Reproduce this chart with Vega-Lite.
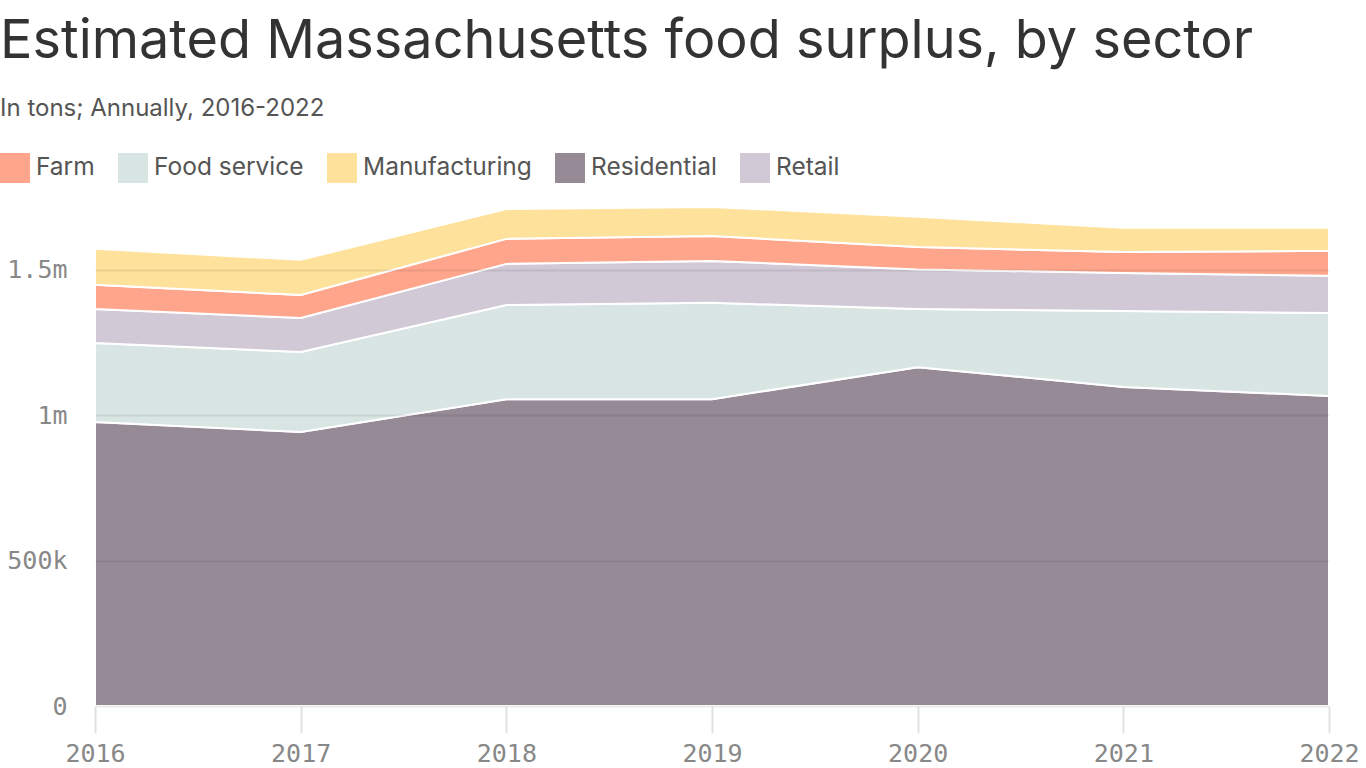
{
  "$schema": "https://vega.github.io/schema/vega-lite/v6.json",
  "autosize": "none",
  "width": 1275,
  "height": 509,
  "padding": {"left": 75, "top": 197, "right": 16, "bottom": 62},
  "background": "white",
  "title": {
    "text": "Estimated Massachusetts food surplus, by sector",
    "subtitle": "In tons; Annually, 2016-2022",
    "anchor": "start",
    "frame": "group",
    "dx": -75,
    "offset": 32,
    "font": "Inter",
    "fontSize": 54,
    "fontWeight": "normal",
    "color": "#333333",
    "subtitleFont": "Inter",
    "subtitleFontSize": 24,
    "subtitleColor": "#555555",
    "subtitlePadding": 28,
    "limit": 1400
  },
  "data": {
    "values": [
      {"year": 2016, "sector": "Residential", "tons": 976000},
      {"year": 2016, "sector": "Food service", "tons": 272000},
      {"year": 2016, "sector": "Retail", "tons": 117000},
      {"year": 2016, "sector": "Farm", "tons": 83000},
      {"year": 2016, "sector": "Manufacturing", "tons": 124000},
      {"year": 2017, "sector": "Residential", "tons": 942000},
      {"year": 2017, "sector": "Food service", "tons": 275000},
      {"year": 2017, "sector": "Retail", "tons": 117000},
      {"year": 2017, "sector": "Farm", "tons": 79000},
      {"year": 2017, "sector": "Manufacturing", "tons": 121000},
      {"year": 2018, "sector": "Residential", "tons": 1055000},
      {"year": 2018, "sector": "Food service", "tons": 324000},
      {"year": 2018, "sector": "Retail", "tons": 141000},
      {"year": 2018, "sector": "Farm", "tons": 86000},
      {"year": 2018, "sector": "Manufacturing", "tons": 103000},
      {"year": 2019, "sector": "Residential", "tons": 1055000},
      {"year": 2019, "sector": "Food service", "tons": 331000},
      {"year": 2019, "sector": "Retail", "tons": 144000},
      {"year": 2019, "sector": "Farm", "tons": 86000},
      {"year": 2019, "sector": "Manufacturing", "tons": 100000},
      {"year": 2020, "sector": "Residential", "tons": 1165000},
      {"year": 2020, "sector": "Food service", "tons": 200000},
      {"year": 2020, "sector": "Retail", "tons": 136000},
      {"year": 2020, "sector": "Farm", "tons": 77000},
      {"year": 2020, "sector": "Manufacturing", "tons": 104000},
      {"year": 2021, "sector": "Residential", "tons": 1097000},
      {"year": 2021, "sector": "Food service", "tons": 261000},
      {"year": 2021, "sector": "Retail", "tons": 131000},
      {"year": 2021, "sector": "Farm", "tons": 72000},
      {"year": 2021, "sector": "Manufacturing", "tons": 83000},
      {"year": 2022, "sector": "Residential", "tons": 1066000},
      {"year": 2022, "sector": "Food service", "tons": 285000},
      {"year": 2022, "sector": "Retail", "tons": 128000},
      {"year": 2022, "sector": "Farm", "tons": 86000},
      {"year": 2022, "sector": "Manufacturing", "tons": 79000}
    ]
  },
  "transform": [
    {"calculate": "indexof(['Residential','Food service','Retail','Farm','Manufacturing'], datum.sector)", "as": "stackIndex"}
  ],
  "mark": {"type": "area", "stroke": "white", "strokeWidth": 2, "opacity": 1, "fillOpacity": 1},
  "encoding": {
    "x": {
      "field": "year",
      "type": "quantitative",
      "scale": {"domain": [2016, 2022], "range": [20, 1254], "nice": false, "zero": false},
      "axis": {
        "title": null,
        "values": [2016, 2017, 2018, 2019, 2020, 2021, 2022],
        "format": "d",
        "domain": false,
        "grid": false,
        "ticks": true,
        "tickSize": 27,
        "tickWidth": 2,
        "tickColor": "#e2e2e2",
        "labelFont": "DejaVu Sans Mono",
        "labelFontSize": 25,
        "labelColor": "#888888",
        "labelPadding": 8,
        "labelFlush": false
      }
    },
    "y": {
      "field": "tons",
      "type": "quantitative",
      "stack": "zero",
      "scale": {"domain": [0, 1750000], "nice": false},
      "axis": {
        "title": null,
        "values": [0, 500000, 1000000, 1500000],
        "labelExpr": "replace(format(datum.value, '~s'), 'M', 'm')",
        "domain": false,
        "ticks": false,
        "grid": true,
        "gridColor": "#000000",
        "gridOpacity": 0.08,
        "gridWidth": 2,
        "zindex": 1,
        "labelFont": "DejaVu Sans Mono",
        "labelFontSize": 25,
        "labelColor": "#888888",
        "labelPadding": 8
      }
    },
    "color": {
      "field": "sector",
      "type": "nominal",
      "scale": {
        "domain": ["Farm", "Food service", "Manufacturing", "Residential", "Retail"],
        "range": ["#ffa58c", "#d9e5e2", "#fee29c", "#968a96", "#d1c9d6"]
      },
      "legend": {
        "title": null,
        "orient": "none",
        "legendX": -75,
        "legendY": -44,
        "direction": "horizontal",
        "symbolType": "square",
        "symbolSize": 900,
        "symbolStrokeWidth": 0,
        "symbolOpacity": 1,
        "labelFont": "Inter",
        "labelFontSize": 24.5,
        "labelColor": "#555555",
        "labelOffset": 6,
        "labelLimit": 400,
        "columnPadding": 23
      }
    },
    "order": {"field": "stackIndex", "type": "quantitative"}
  },
  "config": {
    "view": {"stroke": null}
  }
}
